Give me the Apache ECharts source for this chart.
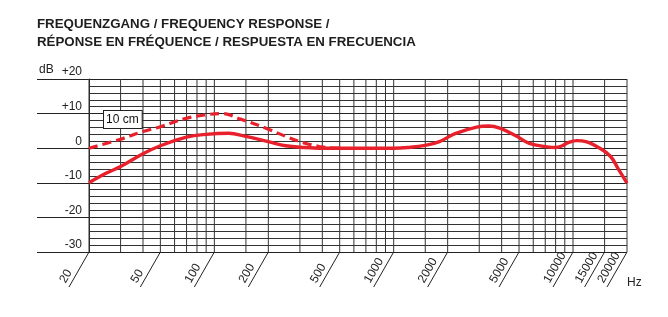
<!DOCTYPE html>
<html>
<head>
<meta charset="utf-8">
<script src="https://cdn.jsdelivr.net/npm/echarts@6/dist/echarts.min.js"></script>
<style>html,body{margin:0;padding:0;background:#fff;}#c{width:668px;height:317px;}</style>
</head>
<body>
<div id="c"></div>
<script>
// ---- data ----
const titleText = 'FREQUENZGANG / FREQUENCY RESPONSE /\nRÉPONSE EN FRÉQUENCE / RESPUESTA EN FRECUENCIA';
const gridFreqs = [20,30,40,50,60,70,80,90,100,150,200,300,400,500,600,700,800,900,1000,1500,2000,3000,4000,5000,6000,7000,8000,9000,10000,15000,20000];
const xTickFreqs = [20,50,100,200,500,1000,2000,5000,10000,15000,20000];
const xTickLabels = ['20','50','100','200','500','1000','2000','5000','10000','15000','20000'];
const yTicks = [-30,-20,-10,0,10,20];
const solidFreq = [20,25,30,40,50,70,90,120,150,200,250,320,400,600,1000,1200,1500,1800,2200,2900,3400,3900,4800,5700,7200,8000,8700,9400,10500,11800,14100,16200,17800,20000];
const solidDb   = [-10,-7.2,-5.3,-1.6,0.7,3.2,4.0,4.3,3.4,1.9,0.7,0.2,0,0,0,0.2,0.8,1.9,4.2,6.1,6.4,5.8,3.6,1.4,0.4,0.2,0.7,1.6,2.2,1.9,0,-2.4,-5.8,-10.1];
const dashFreq = [20,30,40,50,68,88,110,140,200,250,313,385,460,520];
const dashDb   = [0,2.6,4.8,6.2,8.5,9.6,10,8.4,5.5,3.4,1.6,0.5,0.05,0];
const noteText = '10 cm';

const RED = '#e8202b';
const FONT = '"Liberation Sans", Arial, sans-serif';
const chart = echarts.init(document.getElementById('c'));
const pairs = (xs, ys) => xs.map((x, i) => [x, ys[i]]);

chart.setOption({
  animation: false,
  backgroundColor: '#fff',
  title: {
    text: titleText, left: 37, top: 15, padding: 0,
    textStyle: { fontFamily: FONT, fontSize: 13.3, fontWeight: 'bold', color: '#1e1e1e', lineHeight: 18 }
  },
  grid: { left: 89, right: 41, top: 79, bottom: 65 },
  xAxis: {
    type: 'log', logBase: 10, min: 20, max: 20000,
    axisLine: { show: false }, axisTick: { show: false }, axisLabel: { show: false },
    splitLine: { show: false }
  },
  yAxis: {
    type: 'value', min: -30, max: 20, interval: 10,
    axisLine: { show: true, lineStyle: { color: '#222', width: 1 } },
    axisTick: { show: true, length: 52, lineStyle: { color: '#222', width: 1.2 } },
    axisLabel: {
      margin: 7, fontFamily: FONT, fontSize: 12, color: '#222',
      verticalAlign: 'bottom', padding: [0, 0, 1, 0],
      formatter: v => (v > 0 ? '+' + v : String(v))
    },
    splitLine: { show: true, lineStyle: { color: '#222', width: 1.2 } },
    minorTick: { show: false, splitNumber: 5 },
    minorSplitLine: { show: true, lineStyle: { color: '#333', width: 1 } }
  },
  graphic: [
    { type: 'text', left: 39, top: 64, z: 100, style: { text: 'dB', fontFamily: FONT, fontSize: 12, fill: '#222' } },
    { type: 'text', left: 627, top: 277, z: 100, style: { text: 'Hz', fontFamily: FONT, fontSize: 12, fill: '#222' } },
    { type: 'text', left: 103, top: 110, z: 100, style: {
        text: noteText, fontFamily: FONT, fontSize: 12, fill: '#111',
        backgroundColor: '#fff', borderColor: '#222', borderWidth: 1, padding: [3, 3, 2, 2] } }
  ],
  series: [
    {
      type: 'custom', z: 1, silent: true, clip: false,
      data: gridFreqs.map(f => [f, -30]),
      encode: { x: 0, y: 1 },
      renderItem: (params, api) => {
        const f = api.value(0);
        const a = api.coord([f, 20]);
        const b = api.coord([f, -30]);
        return { type: 'line', shape: { x1: a[0], y1: a[1], x2: b[0], y2: b[1] },
          style: { stroke: '#333', lineWidth: 1 } };
      }
    },
    {
      type: 'custom', z: 1, silent: true, clip: false,
      data: xTickFreqs.map((f, i) => [f, -30, xTickLabels[i]]),
      encode: { x: 0, y: 1 },
      dimensions: ['f', 'v', { name: 'lab', type: 'ordinal' }],
      renderItem: (params, api) => {
        const f = api.value(0);
        const p = api.coord([f, -30]);
        const bx = p[0] - 20, by = p[1] + 35;
        return { type: 'group', children: [
          { type: 'line', shape: { x1: p[0], y1: p[1], x2: bx, y2: by },
            style: { stroke: '#222', lineWidth: 1 } },
          { type: 'text', x: bx, y: by, rotation: Math.PI / 3,
            style: { text: xTickLabels[params.dataIndex], x: 1, y: -2, align: 'left', verticalAlign: 'bottom',
              fontFamily: FONT, fontSize: 12, fill: '#222' } }
        ] };
      }
    },
    {
      type: 'line', z: 4, data: pairs(dashFreq, dashDb), smooth: 0.4, symbol: 'none',
      lineStyle: { color: RED, width: 3.2, type: [9, 5] }, silent: true
    },
    {
      type: 'line', z: 5, data: pairs(solidFreq, solidDb), smooth: 0.4, symbol: 'none',
      lineStyle: { color: RED, width: 3.4 }, silent: true
    }
  ]
});
</script>
</body>
</html>
